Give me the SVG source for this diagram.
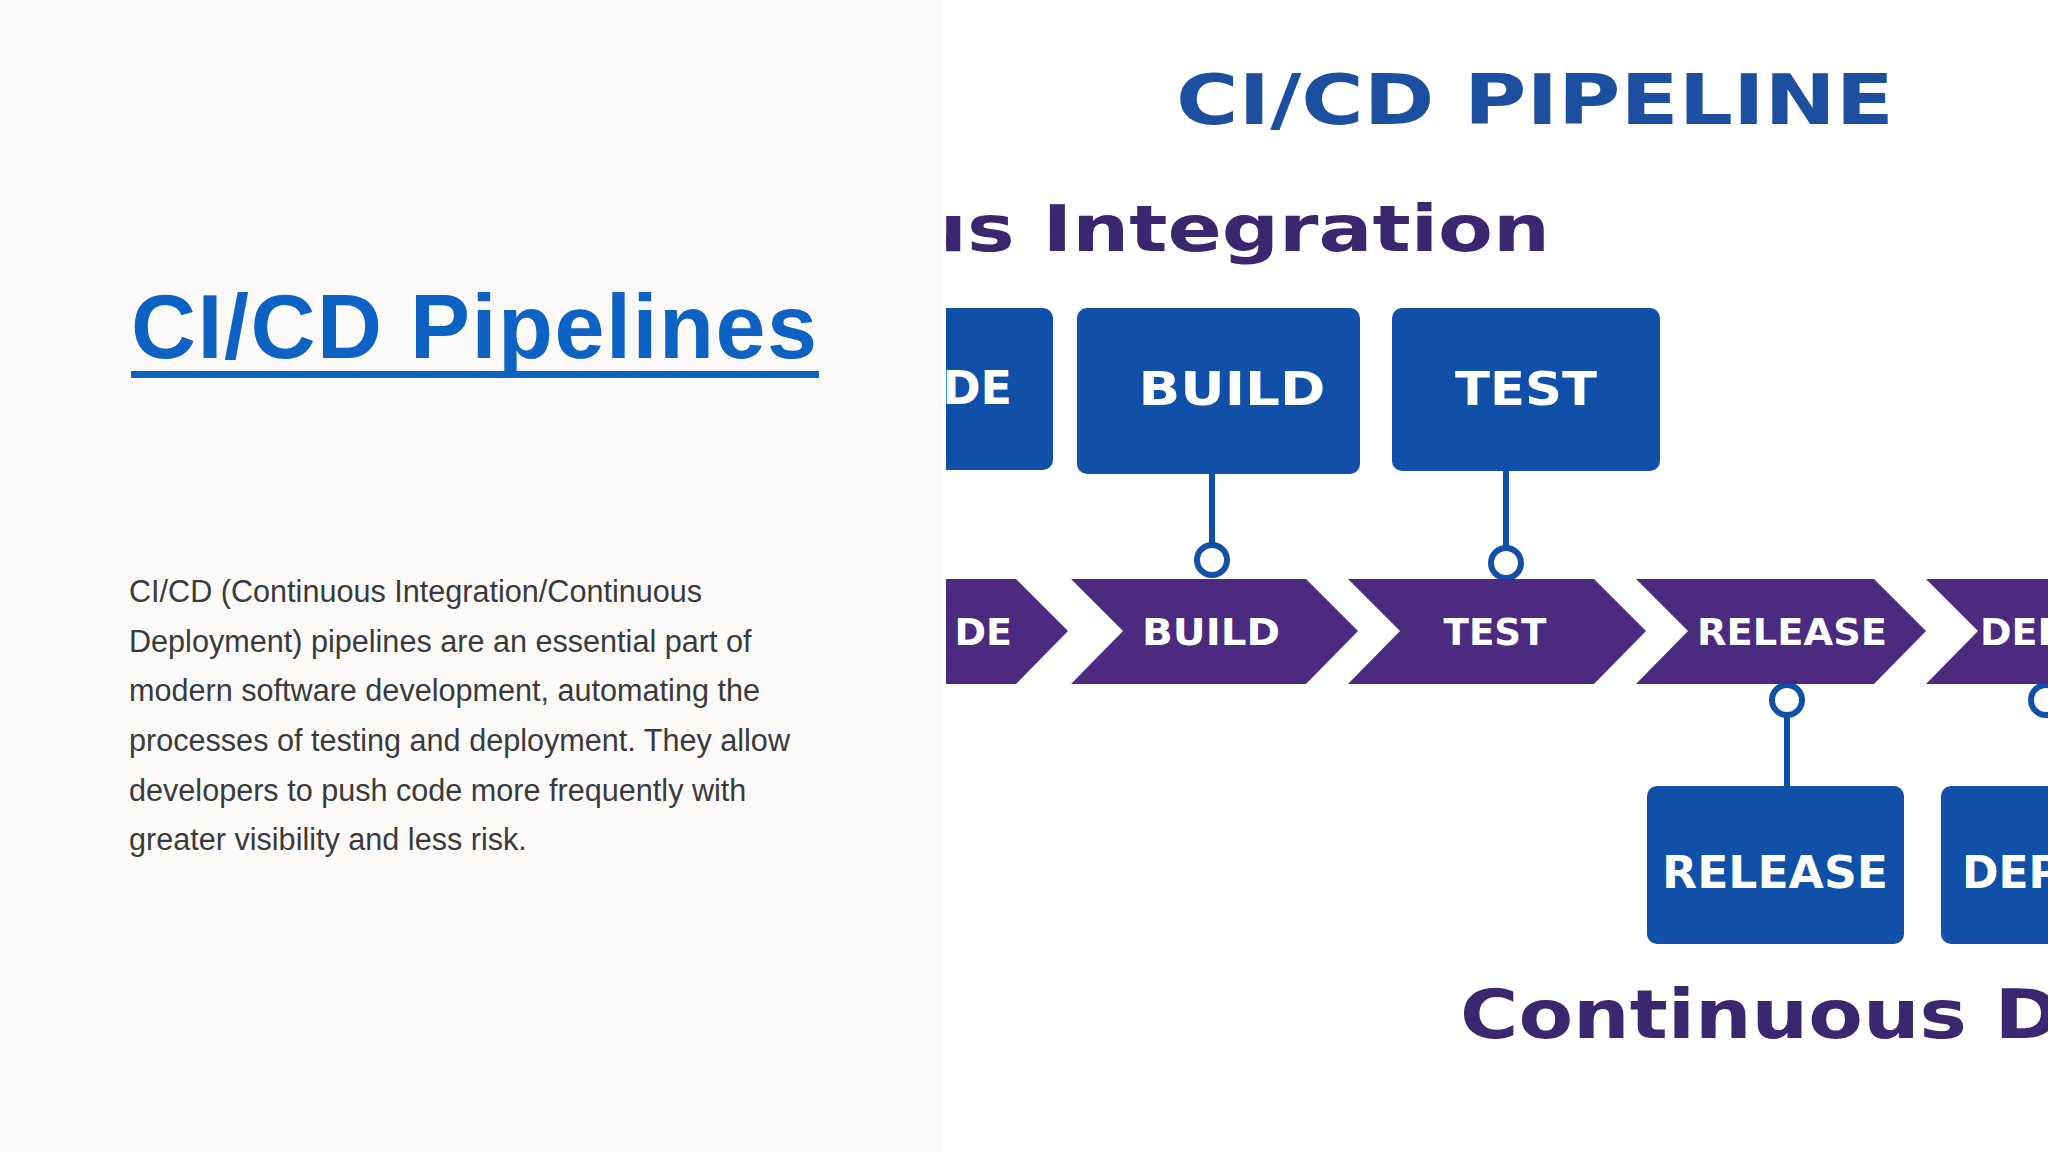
<svg xmlns="http://www.w3.org/2000/svg" width="2048" height="1152" viewBox="0 0 2048 1152">
<style>
.b{font-family:"DejaVu Sans",sans-serif;font-weight:bold;fill:#fff}
.box{fill:#1150a8}
.chev{fill:#4b2a7f}
.stem{stroke:#1150a8;stroke-width:6;fill:none}
.ring{stroke:#1150a8;stroke-width:6;fill:#fff}
.dk{font-family:"DejaVu Sans",sans-serif;font-weight:bold;fill:#3b2670}
.body{font-family:"Liberation Sans",Arial,sans-serif;font-size:30.6px;fill:#3a3a3a}
</style>
<defs><clipPath id="c"><rect x="946" y="0" width="1102" height="1152"/></clipPath></defs>
<rect width="2048" height="1152" fill="#fff"/>
<rect width="943" height="1152" fill="#fbfaf9"/>
<g id="title">
<text x="131" y="358" font-family="Liberation Sans,Arial,sans-serif" font-weight="bold" font-size="90" fill="#0d62c4" textLength="686">CI/CD Pipelines</text>
<rect x="131" y="371" width="688" height="7" fill="#0d62c4"/>
</g>
<g id="description" class="body">
<text x="129" y="602">CI/CD (Continuous Integration/Continuous</text>
<text x="129" y="652">Deployment) pipelines are an essential part of</text>
<text x="129" y="701">modern software development, automating the</text>
<text x="129" y="751">processes of testing and deployment. They allow</text>
<text x="129" y="801">developers to push code more frequently with</text>
<text x="129" y="850">greater visibility and less risk.</text>
</g>
<g id="figure" clip-path="url(#c)">
<text class="b" x="1535" y="124" font-size="70" text-anchor="middle" style="fill:#1d4fa0" textLength="718" lengthAdjust="spacingAndGlyphs">CI/CD PIPELINE</text>
<text class="dk" transform="translate(1550 251) scale(1.25 1)" x="0" y="0" font-size="64" text-anchor="end">Continuous Integration</text>
<g id="connectors">
<line class="stem" x1="1212" y1="474" x2="1212" y2="545"/><circle class="ring" cx="1212" cy="560" r="15"/>
<line class="stem" x1="1506" y1="471" x2="1506" y2="548"/><circle class="ring" cx="1506" cy="563" r="15"/>
<line class="stem" x1="1787" y1="715" x2="1787" y2="786"/><circle class="ring" cx="1787" cy="700" r="15"/>
<circle class="ring" cx="2046" cy="700" r="15"/>
</g>
<g id="box-code"><rect class="box" x="900" y="308" width="153" height="162" rx="10"/><text class="b" x="1012" y="404" font-size="46" text-anchor="end">DE</text></g>
<g id="box-build"><rect class="box" x="1077" y="308" width="283" height="166" rx="10"/><text class="b" x="1232" y="405" font-size="47" text-anchor="middle" textLength="187" lengthAdjust="spacingAndGlyphs">BUILD</text></g>
<g id="box-test"><rect class="box" x="1392" y="308" width="268" height="163" rx="10"/><text class="b" x="1526" y="405" font-size="47" text-anchor="middle" textLength="142" lengthAdjust="spacingAndGlyphs">TEST</text></g>
<g id="chev-code"><polygon class="chev" points="900,579 1016,579 1068,631 1016,684 900,684"/><text class="b" x="1012" y="645" font-size="38" text-anchor="end">DE</text></g>
<g id="chev-build"><polygon class="chev" points="1071,579 1306,579 1358,631 1306,684 1071,684 1123,631"/><text class="b" x="1211" y="645" font-size="38" text-anchor="middle" textLength="138" lengthAdjust="spacingAndGlyphs">BUILD</text></g>
<g id="chev-test"><polygon class="chev" points="1348,579 1594,579 1646,631 1594,684 1348,684 1400,631"/><text class="b" x="1495" y="645" font-size="38" text-anchor="middle" textLength="103" lengthAdjust="spacingAndGlyphs">TEST</text></g>
<g id="chev-release"><polygon class="chev" points="1636,579 1874,579 1926,631 1874,684 1636,684 1688,631"/><text class="b" x="1792" y="645" font-size="38" text-anchor="middle" textLength="190" lengthAdjust="spacingAndGlyphs">RELEASE</text></g>
<g id="chev-deploy"><polygon class="chev" points="1926,579 2060,579 2060,684 1926,684 1978,631"/><text class="b" x="1980" y="645" font-size="38">DEPLOY</text></g>
<g id="box-release"><rect class="box" x="1647" y="786" width="257" height="158" rx="10"/><text class="b" x="1775" y="888" font-size="44" text-anchor="middle" textLength="226" lengthAdjust="spacingAndGlyphs">RELEASE</text></g>
<g id="box-deploy"><rect class="box" x="1941" y="786" width="140" height="158" rx="10"/><text class="b" x="1962" y="888" font-size="44">DEPLOY</text></g>
<text class="dk" transform="translate(1460 1038) scale(1.17 1)" x="0" y="0" font-size="68">Continuous Deployment</text>
</g>
</svg>
